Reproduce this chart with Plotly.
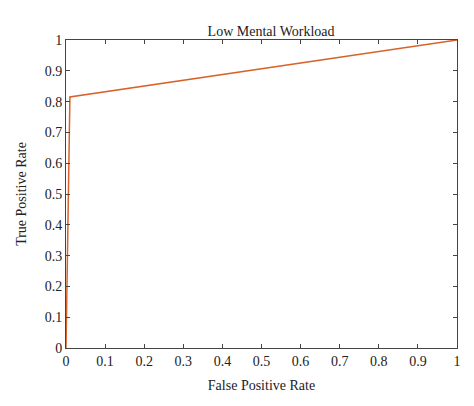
import plotly.graph_objects as go

fpr = [0, 0.01, 1]
tpr = [0, 0.815, 1]
ticks = [0, 0.1, 0.2, 0.3, 0.4, 0.5, 0.6, 0.7, 0.8, 0.9, 1]
ticklabels = ["0", "0.1", "0.2", "0.3", "0.4", "0.5", "0.6", "0.7", "0.8", "0.9", "1"]

fig = go.Figure(go.Scatter(x=fpr, y=tpr, mode="lines", line=dict(color="#d9622b", width=1.5)))
ax = dict(range=[0, 1], tickvals=ticks, ticktext=ticklabels, ticks="inside", ticklen=4,
          showgrid=False, zeroline=False, showline=True, mirror="ticks", linecolor="#444",
          tickcolor="#444", tickfont=dict(size=14, color="#222"))
fig.update_layout(
    width=474, height=406, margin=dict(l=58, r=25, t=32, b=66),
    paper_bgcolor="white", plot_bgcolor="white",
    font=dict(family="Liberation Serif", color="#222"),
    title=dict(text="Low Mental Workload", x=0.555, xanchor="center", y=0.955, font=dict(size=14)),
    xaxis=dict(ax, title=dict(text="False Positive Rate", font=dict(size=14), standoff=12)),
    yaxis=dict(ax, title=dict(text="True Positive Rate", font=dict(size=14), standoff=14)),
    showlegend=False,
)
fig.write_html("out.html")
